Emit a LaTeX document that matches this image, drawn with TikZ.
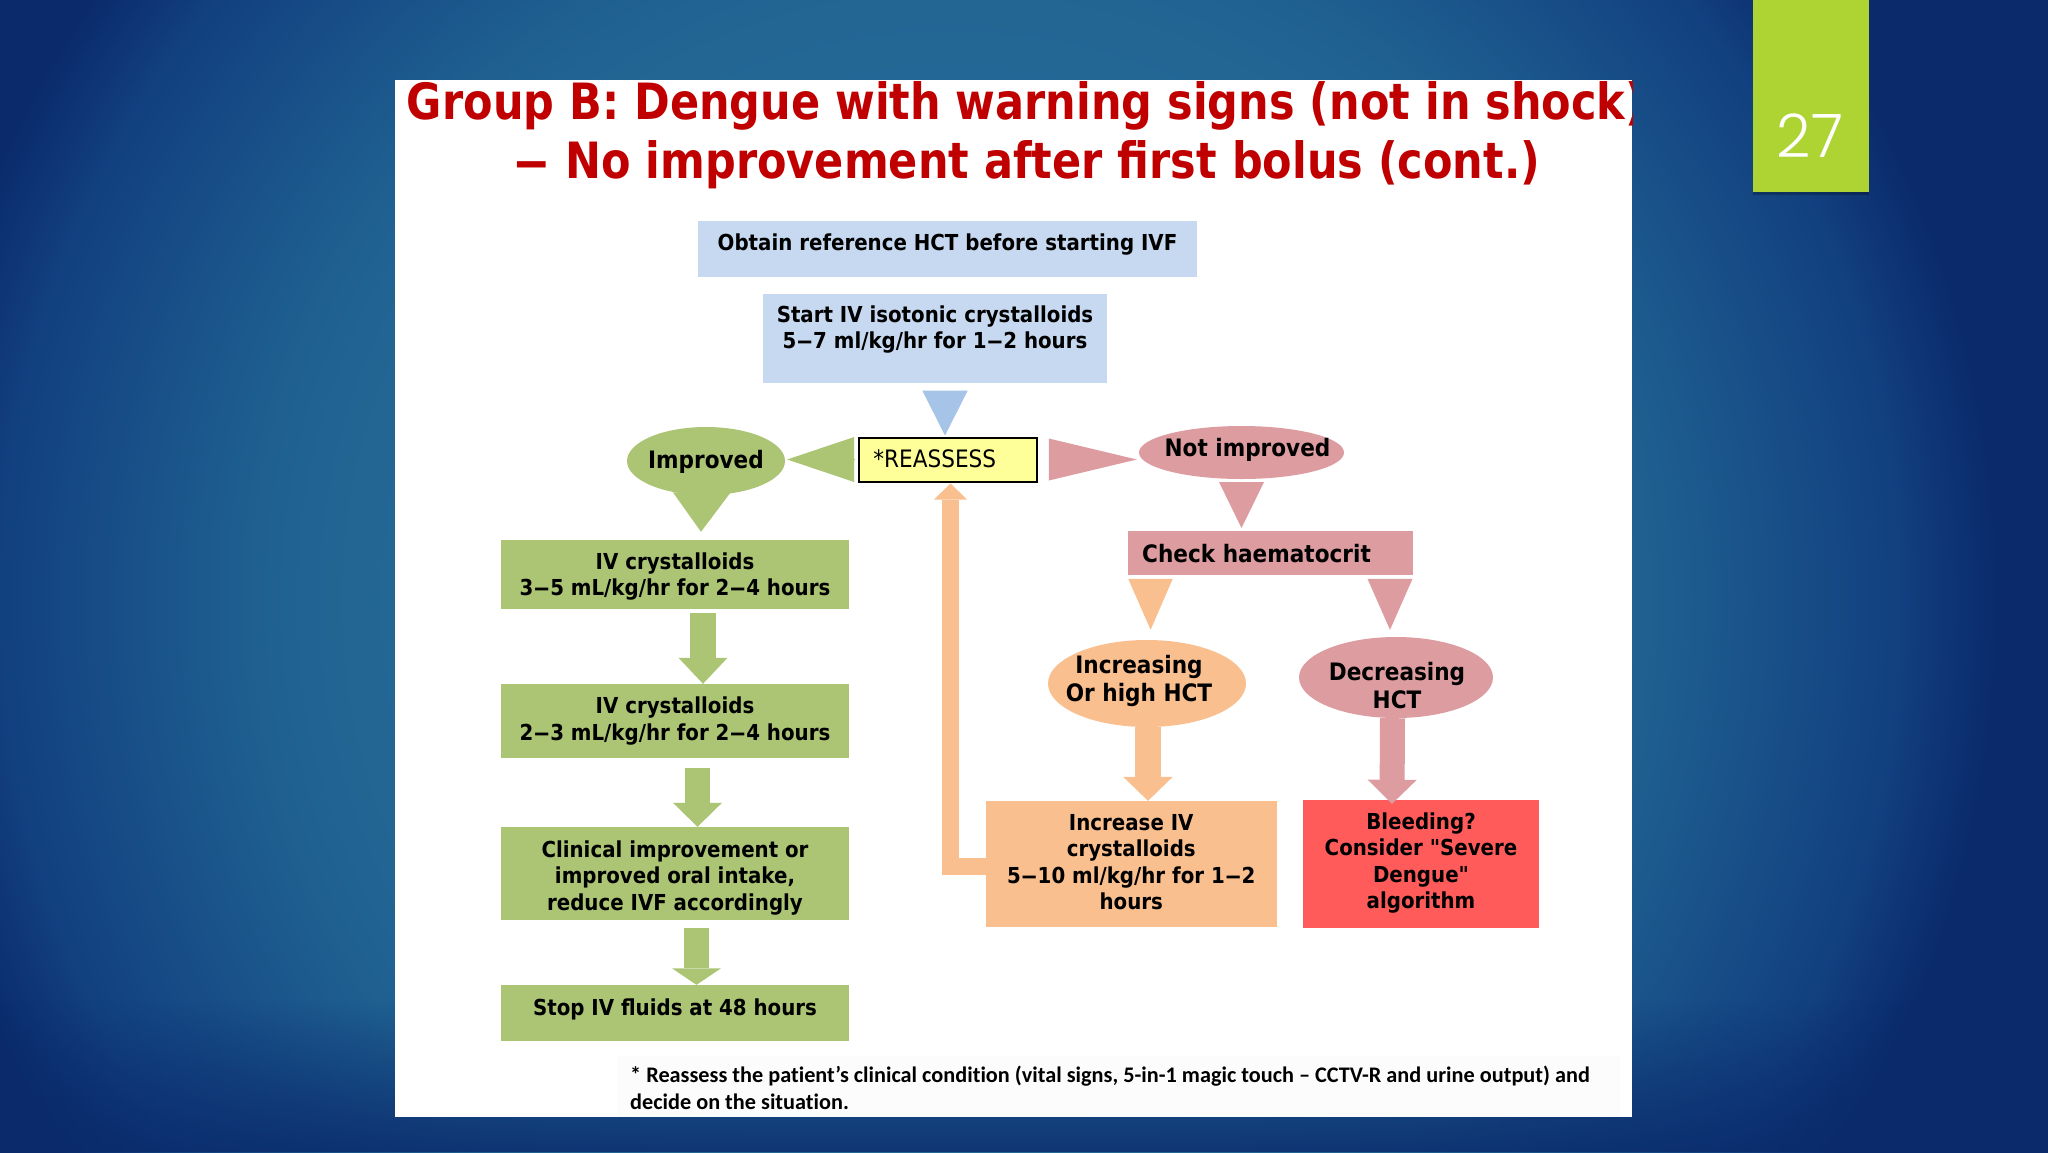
\documentclass[tikz,border=0pt]{standalone}
\usepackage{fontspec}
\usepackage{graphicx}
\usetikzlibrary{arrows.meta,shapes.geometric,fadings}
\newfontfamily\tahomafont[FakeStretch=0.9]{DejaVu Sans}
\newfontfamily\headfont[FakeStretch=0.86]{DejaVu Sans}
\newfontfamily\notefont[Ligatures=NoCommon]{Carlito}
\newfontfamily\pagefont{Poppins Light}
\definecolor{ltgreen}{HTML}{ACC575}
\definecolor{ltblue}{HTML}{C6D9F0}
\definecolor{midblue}{HTML}{A6C3E8}
\definecolor{ltpink}{HTML}{DC9CA0}
\definecolor{ltorange}{HTML}{F9BF8F}
\definecolor{ltred}{HTML}{FF5B5B}
\definecolor{ltyellow}{HTML}{FFFF99}
\definecolor{limebar}{HTML}{ADD432}
\definecolor{titlered}{HTML}{C00000}
\definecolor{navy}{HTML}{0A2A6B}
\pgfdeclareradialshading{slideglow}{\pgfpoint{0bp}{0bp}}{%
  rgb(0bp)=(.15,.44,.64); rgb(13.6bp)=(.137,.40,.58); rgb(15.9bp)=(.12,.375,.565);
  rgb(21.6bp)=(.07,.25,.50); rgb(23.8bp)=(.04,.165,.42); rgb(50bp)=(.04,.165,.42)}
% text sits in a zero-size box, so that it does not inflate its shape: dx, dy, lines
\newcommand{\celltext}[3]{\smash{\raisebox{\dimexpr #2-.32em\relax}{\hspace*{#1}\makebox[0pt]{\begin{tabular}{@{}c@{}}#3\end{tabular}}\hspace*{-#1}}}}
% the en dash of the slide is longer than that of this font
\newcommand{\wdash}{\scalebox{1.7}[1]{–}}
\tikzset{
  box/.style={rectangle, inner sep=0pt, font=\tahomafont\bfseries\fontsize{22}{26.5}\selectfont},
  oval/.style={ellipse, inner sep=0pt, font=\tahomafont\bfseries\fontsize{24}{28.5}\selectfont},
  taper/.style n args={3}{draw=#3, line width=.1pt, -{Triangle[length=#1, width=#2, line width=0pt]}},
  block/.style n args={4}{draw=#4, line width=#1, -{Triangle[length=#3, width=#2, line width=0pt]}}
}
\begin{document}
\begin{tikzpicture}[x=1pt, y=-1pt]
  \useasboundingbox (0,0) rectangle (2048,1152);
  \begin{scope}
    \clip (0,0) rectangle (2048,1152);
    \shade[shading=slideglow] (-150,-500) rectangle (2050,1700);
    \fill[navy, opacity=.8, path fading=north] (0,1000) rectangle (2048,1152);
  \end{scope}

  \fill[black, opacity=.25] (1753,192) rectangle (1869,195);
  \node[rectangle, fill=limebar, minimum width=116pt, minimum height=192pt, inner sep=0pt] (pagebar) at (1811,96) {};
  \node[text=white, inner sep=0pt, font=\pagefont\fontsize{60}{60}\selectfont] (pagenum) at (1810,136) {27};

  \node[rectangle, fill=white, minimum width=1237pt, minimum height=1037pt, inner sep=0pt] (panel) at (1013.5,598.5) {};
  \begin{scope}
    \clip (panel.north west) rectangle (panel.south east);
    \node[inner sep=0pt, text=titlered, font=\headfont\bfseries\fontsize{50}{50}\selectfont] (titleone) at (1026,106) {Group B: Dengue with warning signs (not in shock)};
    \node[inner sep=0pt, text=titlered, font=\headfont\bfseries\fontsize{50}{50}\selectfont] (titletwo) at (1027,165) {\wdash{} No improvement after first bolus (cont.)};
  \end{scope}

  \node[box, fill=ltblue, minimum width=499pt, minimum height=56pt] (obtain) at (947.5,249) {\celltext{0pt}{6pt}{Obtain reference HCT before starting IVF}};
  \node[box, fill=ltblue, minimum width=344pt, minimum height=89pt] (start) at (935,338.5) {\celltext{0pt}{10pt}{Start IV isotonic crystalloids\\5\wdash{}7 ml/kg/hr for 1\wdash{}2 hours}};
  \node[box, draw=black, line width=2pt, fill=ltyellow, minimum width=178pt, minimum height=44pt, font=\tahomafont\fontsize{24}{26}\selectfont] (reassess) at (947.75,459.5) {\celltext{-13pt}{-1pt}{*REASSESS}};
  \node[oval, fill=ltgreen, minimum width=158pt, minimum height=68pt] (improved) at (706,461) {\celltext{0pt}{0pt}{Improved}};
  \node[oval, fill=ltpink, minimum width=205pt, minimum height=53pt] (notimp) at (1241.5,452.5) {\celltext{6pt}{3pt}{Not improved}};

  \node[box, fill=ltgreen, minimum width=348pt, minimum height=69pt] (ivone) at (675,574.5) {\celltext{0pt}{-1pt}{IV crystalloids\\3\wdash{}5 mL/kg/hr for 2\wdash{}4 hours}};
  \node[box, fill=ltgreen, minimum width=348pt, minimum height=74pt] (ivtwo) at (675,721) {\celltext{0pt}{1pt}{IV crystalloids\\2\wdash{}3 mL/kg/hr for 2\wdash{}4 hours}};
  \node[box, fill=ltgreen, minimum width=348pt, minimum height=93pt] (clinical) at (675,873.5) {\celltext{0pt}{-3pt}{Clinical improvement or\\improved oral intake,\\reduce IVF accordingly}};
  \node[box, fill=ltgreen, minimum width=348pt, minimum height=56pt] (stopiv) at (675,1013) {\celltext{0pt}{5pt}{Stop IV fluids at 48 hours}};

  \node[box, fill=ltpink, minimum width=285pt, minimum height=43.6pt, font=\tahomafont\bfseries\fontsize{24}{26}\selectfont] (check) at (1270,553) {\celltext{-13.5pt}{-2.5pt}{Check haematocrit}};
  \node[oval, fill=ltorange, minimum width=198pt, minimum height=87pt] (increasing) at (1147,683.5) {\celltext{-8pt}{3pt}{Increasing\\Or high HCT}};
  \node[oval, fill=ltpink, minimum width=194pt, minimum height=81pt] (decreasing) at (1396,677.5) {\celltext{1pt}{-10pt}{Decreasing\\HCT}};
  \node[box, fill=ltorange, minimum width=290.5pt, minimum height=126pt] (incbox) at (1131.25,864) {\celltext{0pt}{1pt}{Increase IV\\crystalloids\\5\wdash{}10 ml/kg/hr for 1\wdash{}2\\hours}};
  \node[box, fill=ltred, minimum width=236pt, minimum height=128pt] (bleeding) at (1421,864) {\celltext{0pt}{2pt}{Bleeding?\\Consider "Severe\\Dengue"\\algorithm}};

  \node[rectangle, fill=black!1, minimum width=1003pt, minimum height=61pt, inner sep=0pt] (noteback) at (1118.5,1086.5) {};
  \node[anchor=west, inner sep=0pt, align=left, font=\notefont\bfseries\fontsize{22.25}{27}\selectfont] (note) at (630,1087.5) {* Reassess the patient’s clinical condition (vital signs, 5-in-1 magic touch – CCTV-R and urine output) and\\decide on the situation.};

  \draw[taper={45pt}{45.5pt}{midblue}] ([xshift=10pt,yshift=-8pt]start.south) -- ([xshift=-2.75pt,yshift=1pt]reassess.north);
  \draw[taper={67pt}{45pt}{ltgreen}] ([xshift=-4pt]reassess.west) -- ([xshift=2pt,yshift=1.5pt]improved.east);
  \draw[taper={88pt}{42pt}{ltpink}] ([xshift=11.5pt]reassess.east) -- ([xshift=-2pt,yshift=-7pt]notimp.west);
  \draw[taper={39pt}{57pt}{ltgreen}] ([xshift=-4.5pt,yshift=2pt]improved.south) -- ([xshift=26pt,yshift=8pt]ivone.north);
  \draw[taper={46pt}{45pt}{ltpink}] ([yshift=-3pt]notimp.south) -- ([yshift=3pt,xshift=-28.5pt]check.north);
  \draw[taper={51pt}{44.5pt}{ltorange}] ([xshift=-119.5pt,yshift=-4.4pt]check.south) -- ([xshift=3.6pt,yshift=10pt]increasing.north);
  \draw[taper={51pt}{45pt}{ltpink}] ([xshift=120pt,yshift=-4.4pt]check.south) -- ([xshift=-6pt,yshift=7pt]decreasing.north);

  \draw[block={26pt}{49pt}{26pt}{ltgreen}] ([xshift=28pt,yshift=-4pt]ivone.south) -- ([xshift=28pt]ivtwo.north);
  \draw[block={25pt}{49pt}{24pt}{ltgreen}] ([xshift=22.5pt,yshift=-10pt]ivtwo.south) -- ([xshift=22.5pt]clinical.north);
  \draw[block={25pt}{49pt}{16.5pt}{ltgreen}] ([xshift=21.5pt,yshift=-8pt]clinical.south) -- ([xshift=21.5pt]stopiv.north);
  \draw[block={25.5pt}{49.5pt}{24pt}{ltorange}] ([xshift=1pt]increasing.south) -- ([xshift=16.75pt]incbox.north);
  \draw[block={25pt}{49pt}{24pt}{ltpink}] ([xshift=-3.5pt]decreasing.south) -- ([xshift=-29pt,yshift=-4pt]bleeding.north);
  \draw[block={17.5pt}{33pt}{16pt}{ltorange}] ([yshift=-2.5pt]incbox.west) -| ([xshift=2.75pt,yshift=-1pt]reassess.south);
\end{tikzpicture}
\end{document}
